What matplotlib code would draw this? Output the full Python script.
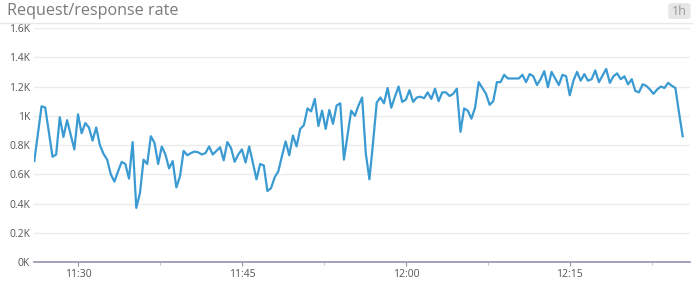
import numpy as np
import pandas as pd
import matplotlib
matplotlib.use("Agg")
import matplotlib.pyplot as plt
import matplotlib.dates as mdates
from matplotlib.patches import FancyBboxPatch
from matplotlib.lines import Line2D

plt.rcParams['font.family'] = ['Open Sans', 'DejaVu Sans']

# requests per interval, one sample every 20 s starting 11:26:00
rate = [
    690, 880, 1065, 1056, 890, 720, 735, 990, 855, 970, 870, 770, 1010, 880, 950, 920,
    830, 920, 800, 740, 700, 600, 550, 620, 685, 670, 570, 820, 370, 470, 700,
    670, 860, 815, 670, 790, 735, 640, 690, 510, 585, 760, 730, 745, 755, 750, 735,
    745, 790, 735, 760, 785, 695, 820, 780, 685, 735, 770, 680, 790,
    680, 565, 670, 660, 485, 505, 580, 620, 725, 825, 730, 865, 790, 910, 935, 1050,
    1030, 1115, 930, 1035, 910, 1040, 945, 1070, 1085, 700, 870, 1035, 1000, 1070, 1125,
    745, 565, 815, 1090, 1125, 1085, 1190, 1055, 1130, 1200, 1095, 1110, 1175, 1095, 1125,
    1130, 1120, 1160, 1115, 1185, 1100, 1160, 1160, 1135, 1150, 1185, 890, 1050, 1035, 980, 1055,
    1230, 1190, 1150, 1075, 1100, 1230, 1230, 1280, 1255, 1255, 1255, 1255, 1280, 1230, 1285,
    1270, 1210, 1250, 1305, 1195, 1300, 1255, 1210, 1280, 1270, 1140, 1240, 1300, 1240, 1285,
    1240, 1250, 1310, 1230, 1275, 1320, 1225, 1270, 1290, 1250, 1270, 1215, 1250, 1170, 1160,
    1215, 1205, 1180, 1150, 1180, 1200, 1190, 1225, 1205, 1190, 1020, 860,
]
start = "2024-01-01 11:26:00"
end = "2024-01-01 12:26:00"
y_ticks = [0, 200, 400, 600, 800, 1000, 1200, 1400, 1600]
title = "Request/response rate"
badge = "1h"

times = pd.date_range(start, periods=len(rate), freq="20s")

fig = plt.figure(figsize=(6.94, 2.83), dpi=100)
ax = fig.add_axes([0.0494, 0.0742, 0.9448, 0.8268])

ax.plot(times, rate, color="#3a9ad2", lw=1.6, zorder=3)

ax.set_ylim(0, 1600)
ax.set_yticks(y_ticks)
ax.yaxis.set_major_formatter(lambda v, p: f"{v / 1000:g}K")
ax.grid(axis="y", color="#ebebeb", lw=1)
ax.set_axisbelow(True)

ax.xaxis.set_major_locator(mdates.MinuteLocator(byminute=[0, 15, 30, 45]))
ax.xaxis.set_major_formatter(mdates.DateFormatter("%H:%M"))

# minor ticks halfway between the major ones
minor = pd.date_range("2024-01-01 11:37:30", periods=4, freq="15min")
ax.set_xticks(minor, minor=True)
ax.set_xlim(pd.Timestamp(start), pd.Timestamp(end))

for s in ["top", "right", "left"]:
    ax.spines[s].set_visible(False)
ax.spines["bottom"].set_color("#9a90ae")
ax.spines["bottom"].set_linewidth(1.2)
ax.tick_params(axis="y", length=0, pad=3, labelsize=7.5, labelcolor="#555555")
ax.tick_params(axis="x", which="major", length=3, width=0.8, color="#9a90ae",
               pad=2, labelsize=7.5, labelcolor="#555555")
ax.tick_params(axis="x", which="minor", length=2, width=0.8, color="#c8c8c8")

fig.text(0.01, 0.962, title, fontsize=11.6, color="#7a7a7a", va="center", ha="left")
fig.add_artist(Line2D([0.0, 0.997], [0.919, 0.919], color="#e8e8e8", lw=1,
                      transform=fig.transFigure))

bx = FancyBboxPatch((0.963, 0.933), 0.032, 0.056, boxstyle="round,pad=0,rounding_size=0.006",
                    transform=fig.transFigure, facecolor="#e6e6e6", edgecolor="none")
fig.add_artist(bx)
fig.text(0.979, 0.959, badge, fontsize=9, color="#9a9a9a", ha="center", va="center")

fig.savefig("out.png", dpi=100)
